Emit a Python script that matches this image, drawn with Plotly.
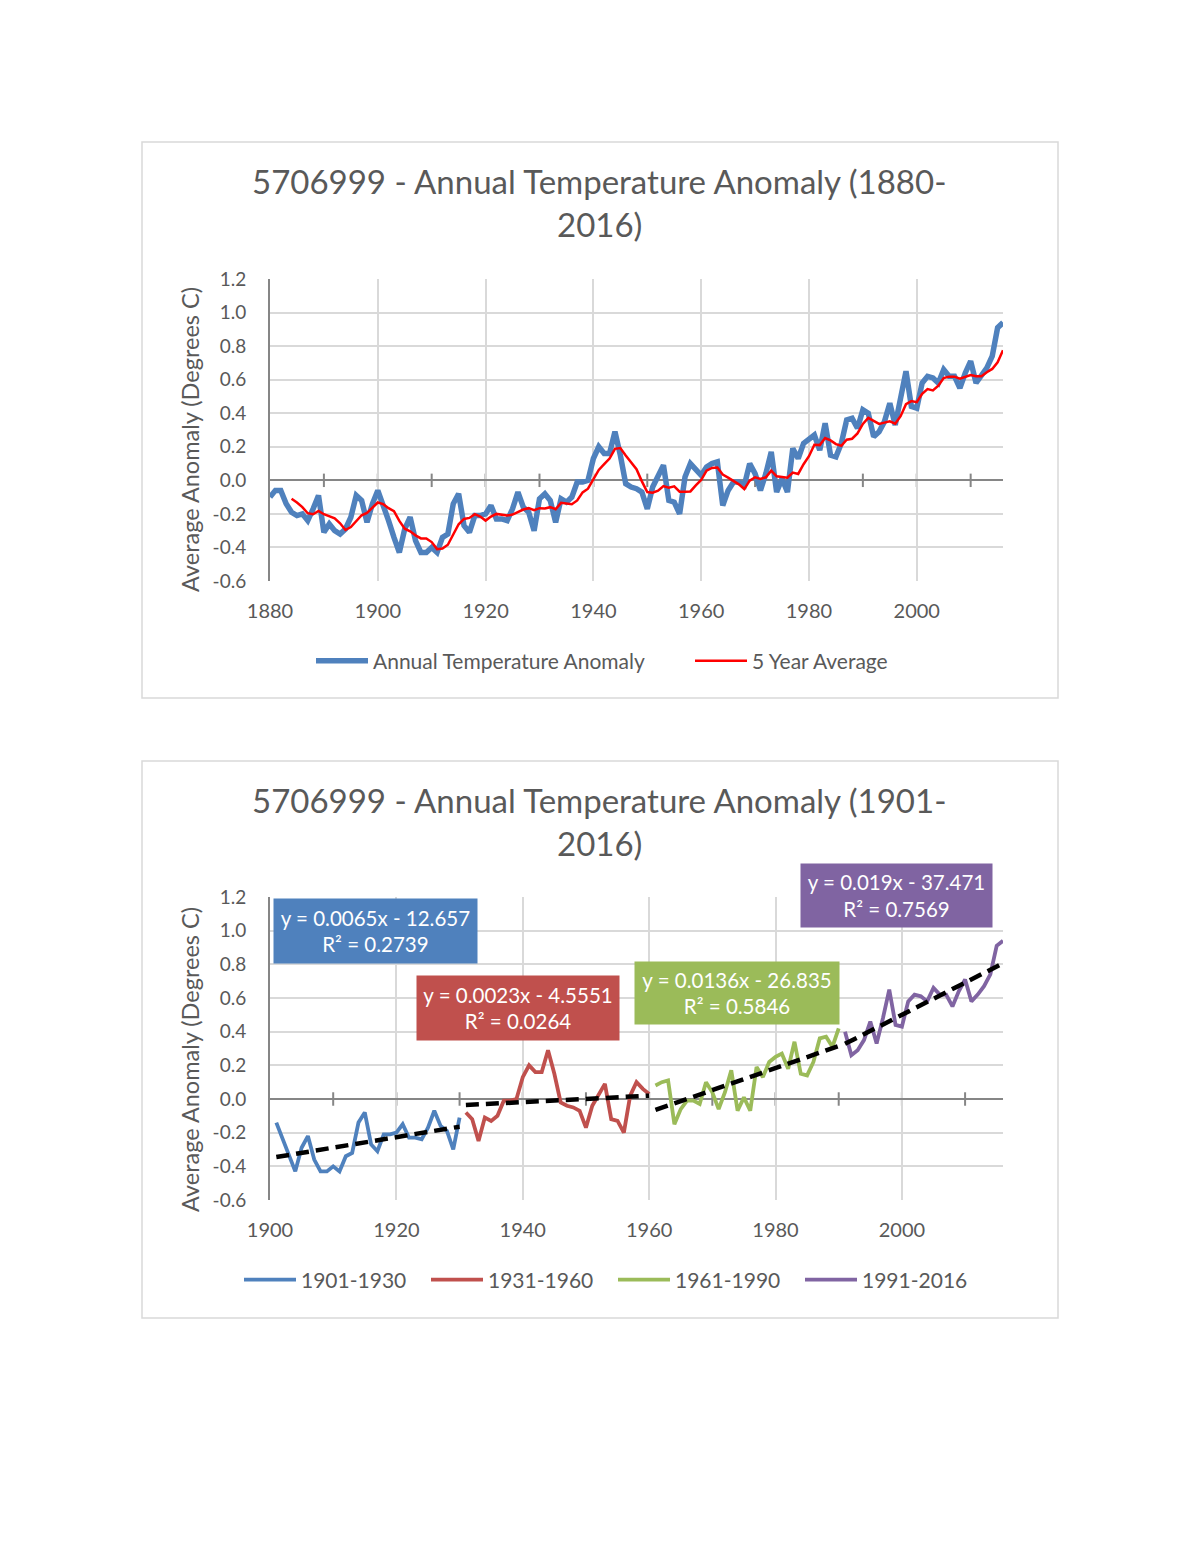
import numpy as np
import plotly.graph_objects as go

# ---------------- data ----------------
years = list(range(1880, 2017))
anomaly = [
    -0.10, -0.06, -0.06, -0.14, -0.19, -0.21, -0.20, -0.24, -0.17, -0.09,   # 1880s
    -0.31, -0.26, -0.30, -0.32, -0.29, -0.22, -0.09, -0.12, -0.25, -0.14,   # 1890s
    -0.06, -0.14, -0.24, -0.34, -0.43, -0.29, -0.22, -0.36, -0.43, -0.43,   # 1900s
    -0.40, -0.43, -0.34, -0.32, -0.14, -0.08, -0.27, -0.31, -0.21, -0.21,   # 1910s
    -0.20, -0.15, -0.23, -0.23, -0.24, -0.17, -0.07, -0.16, -0.19, -0.30,   # 1920s
    -0.11, -0.08, -0.12, -0.25, -0.11, -0.13, -0.10, -0.01, -0.01, 0.00,    # 1930s
    0.13, 0.20, 0.16, 0.16, 0.29, 0.15, -0.02, -0.04, -0.05, -0.07,         # 1940s
    -0.17, -0.04, 0.02, 0.09, -0.12, -0.13, -0.20, 0.02, 0.10, 0.06,        # 1950s
    0.03, 0.08, 0.10, 0.11, -0.15, -0.06, -0.01, -0.01, -0.03, 0.10,        # 1960s
    0.04, -0.06, 0.04, 0.17, -0.07, 0.01, -0.07, 0.19, 0.13, 0.22,          # 1970s
    0.25, 0.27, 0.18, 0.34, 0.15, 0.14, 0.22, 0.36, 0.37, 0.31,             # 1980s
    0.42, 0.40, 0.26, 0.29, 0.35, 0.46, 0.33, 0.48, 0.65, 0.44,             # 1990s
    0.43, 0.58, 0.62, 0.61, 0.58, 0.66, 0.62, 0.62, 0.55, 0.64,             # 2000s
    0.71, 0.58, 0.62, 0.67, 0.74, 0.91, 0.94,                               # 2010-2016
]
assert len(anomaly) == len(years)

ma_period = 5
seg_names = ["1901-1930", "1931-1960", "1961-1990", "1991-2016"]
seg_start = [1901, 1931, 1961, 1991]
seg_end = [1930, 1960, 1990, 2016]
trend_labels = [
    "y = 0.0065x - 12.657<br>R² = 0.2739",
    "y = 0.0023x - 4.5551<br>R² = 0.0264",
    "y = 0.0136x - 26.835<br>R² = 0.5846",
    "y = 0.019x - 37.471<br>R² = 0.7569",
]
title1 = ["5706999 - Annual Temperature Anomaly (1880-", "2016)"]
title2 = ["5706999 - Annual Temperature Anomaly (1901-", "2016)"]
y_title = "Average Anomaly (Degrees C)"
ytick_vals = [-0.6, -0.4, -0.2, 0.0, 0.2, 0.4, 0.6, 0.8, 1.0, 1.2]
xtick_vals1 = [1880, 1900, 1920, 1940, 1960, 1980, 2000]
xtick_vals2 = [1900, 1920, 1940, 1960, 1980, 2000]
minor_ticks1 = list(range(1890, 2011, 10))
minor_ticks2 = list(range(1910, 2011, 10))

# ---------------- styles ----------------
W, H = 1200, 1553
OFF = 8  # page body offset of the rendered figure
FONT = "Lato"
GRAY = "#595959"
GRID = "#d9d9d9"
AXIS = "#868686"
seg_colors = ["#4f81bd", "#c0504d", "#9bbb59", "#8064a2"]


def px(xp):
    return (xp - OFF) / W


def py(yp):
    return 1 - (yp - OFF) / H


# moving average (trailing, as in Excel trendline)
ma_years = years[ma_period - 1:]
ma_vals = [float(np.mean(anomaly[i - ma_period + 1:i + 1])) for i in range(ma_period - 1, len(anomaly))]

fig = go.Figure()

# chart 1
fig.add_trace(go.Scatter(x=years, y=anomaly, mode="lines", name="Annual Temperature Anomaly",
                         line=dict(color="#4f81bd", width=5.5), xaxis="x", yaxis="y", legend="legend"))
fig.add_trace(go.Scatter(x=ma_years, y=ma_vals, mode="lines", name="5 Year Average",
                         line=dict(color="#ff0000", width=2.5), xaxis="x", yaxis="y", legend="legend"))

# chart 2
yr_arr = np.array(years)
an_arr = np.array(anomaly)
for name, s, e, col in zip(seg_names, seg_start, seg_end, seg_colors):
    m = (yr_arr >= s) & (yr_arr <= e)
    fig.add_trace(go.Scatter(x=yr_arr[m], y=an_arr[m], mode="lines", name=name,
                             line=dict(color=col, width=3.8), xaxis="x2", yaxis="y2", legend="legend2"))
for s, e in zip(seg_start, seg_end):
    m = (yr_arr >= s) & (yr_arr <= e)
    k, b = np.polyfit(yr_arr[m], an_arr[m], 1)
    xs = np.array([s, e])
    fig.add_trace(go.Scatter(x=xs, y=k * xs + b, mode="lines", showlegend=False, hoverinfo="skip",
                             line=dict(color="black", width=4.5, dash="13px,7px"), xaxis="x2", yaxis="y2"))

xdom = [px(270), px(1003)]
common_x = dict(domain=xdom, showgrid=True, gridcolor=GRID, gridwidth=1.5, zeroline=False,
                showline=False, ticks="", tickfont=dict(family=FONT, size=20, color=GRAY),
                ticklabelstandoff=16, automargin=False)
common_y = dict(range=[-0.6, 1.2], tickvals=ytick_vals, ticktext=[f"{v:.1f}" for v in ytick_vals],
                showgrid=True, gridcolor=GRID, gridwidth=1.5, zeroline=True, zerolinecolor=AXIS,
                zerolinewidth=2, showline=True, linecolor=AXIS, linewidth=2, ticks="",
                tickfont=dict(family=FONT, size=19, color=GRAY), ticklabelstandoff=18, automargin=False)

legend_common = dict(orientation="h", xanchor="left", yanchor="middle", itemwidth=52,
                     font=dict(family=FONT, size=21, color=GRAY), bgcolor="rgba(0,0,0,0)",
                     entrywidthmode="pixels")

fig.update_layout(
    width=W, height=H, margin=dict(l=0, r=0, t=0, b=0, autoexpand=False),
    paper_bgcolor="white", plot_bgcolor="white",
    font=dict(family=FONT, color=GRAY),
    xaxis=dict(common_x, range=[1880, 2016], tickvals=xtick_vals1, anchor="y"),
    yaxis=dict(common_y, domain=[py(581), py(279)], anchor="x"),
    xaxis2=dict(common_x, range=[1900, 2016], tickvals=xtick_vals2, anchor="y2"),
    yaxis2=dict(common_y, domain=[py(1200), py(897)], anchor="x2"),
    legend=dict(legend_common, x=px(311), y=py(661), entrywidth=312),
    legend2=dict(legend_common, x=px(239), y=py(1280), entrywidth=120),
    showlegend=True,
)

shapes = []
# chart borders
for top, bot in [(142, 698), (761, 1318)]:
    shapes.append(dict(type="rect", xref="paper", yref="paper", x0=px(142), x1=px(1058),
                       y0=py(bot), y1=py(top), line=dict(color=GRID, width=1.5), layer="below"))
# minor tick marks on zero line
for ticks, xr, yr in [(minor_ticks1, "x", "y"), (minor_ticks2, "x2", "y2")]:
    for t in ticks:
        shapes.append(dict(type="line", xref=xr, yref=yr, x0=t, x1=t, y0=-0.04, y1=0.04,
                           line=dict(color=AXIS, width=2), layer="below"))
fig.update_layout(shapes=shapes)

ann = []
for lines, ys in [(title1, (181, 224)), (title2, (800, 843))]:
    for txt, yy in zip(lines, ys):
        ann.append(dict(text=txt, xref="paper", yref="paper", x=px(599), y=py(yy), xanchor="center",
                        yanchor="middle", showarrow=False, font=dict(family=FONT, size=33, color=GRAY)))
for yc in (440, 1060):
    ann.append(dict(text=y_title, xref="paper", yref="paper", x=px(190), y=py(yc), textangle=-90,
                    xanchor="center", yanchor="middle", showarrow=False,
                    font=dict(family=FONT, size=23.5, color=GRAY)))
# trendline equation boxes
box_pos = [(274, 477, 897, 961), (417, 619, 974, 1038), (635, 839, 960, 1022), (801, 992, 862, 925)]
for txt, col, (x0, x1, y0, y1) in zip(trend_labels, seg_colors, box_pos):
    ann.append(dict(text=txt, xref="paper", yref="paper", x=px((x0 + x1) / 2), y=py((y0 + y1) / 2 + 2),
                    xanchor="center", yanchor="middle", showarrow=False, align="center",
                    width=x1 - x0, height=y1 - y0, borderpad=0, bgcolor=col,
                    font=dict(family=FONT, size=20.5, color="white")))
fig.update_layout(annotations=ann)

fig.write_html("out.html")
